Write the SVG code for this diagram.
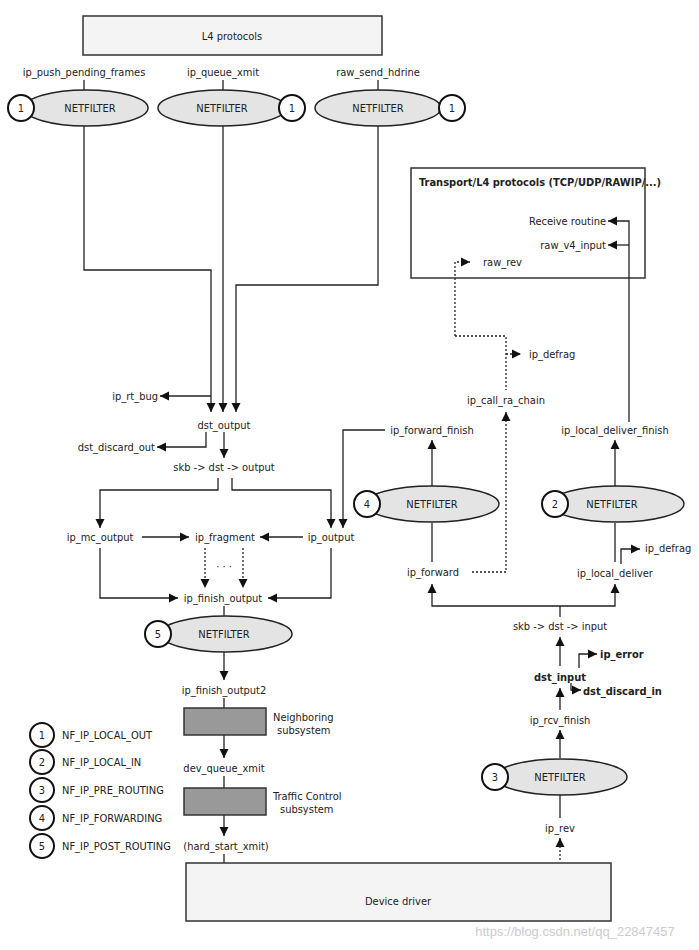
<svg xmlns="http://www.w3.org/2000/svg" width="699" height="950" viewBox="0 0 699 950">
<style>
text{font-family:"DejaVu Sans Condensed","DejaVu Sans",sans-serif;font-size:11px;fill:#222;text-anchor:middle}
.b{font-weight:bold}
.l{text-anchor:start}
.r{text-anchor:end}
.ln{fill:none;stroke:#222;stroke-width:1.3}
.d{fill:none;stroke:#222;stroke-width:1.3;stroke-dasharray:2,2}
.box{fill:#f4f4f4;stroke:#333;stroke-width:1.5}
.gb{fill:#999;stroke:#333;stroke-width:1.5}
.el{fill:#e4e4e4;stroke:#222;stroke-width:1.5}
.c{fill:#fff;stroke:#111;stroke-width:2}
</style>
<defs>
<marker id="a" viewBox="0 0 10 10" refX="10" refY="5" markerWidth="7" markerHeight="7" orient="auto"><path d="M0,0L10,5L0,10z" fill="#111"/></marker>
</defs>
<rect fill="#fff" width="699" height="950"/>
<g id="transport">
<rect fill="#fff" stroke="#333" stroke-width="1.5" x="411" y="168" width="234" height="110"/>
<text class="l b" x="419" y="186">Transport/L4 protocols (TCP/UDP/RAWIP/...)</text>
<text class="r" x="606" y="225">Receive routine</text>
<text class="r" x="606" y="249">raw_v4_input</text>
<text class="l" x="483" y="266">raw_rev</text>
</g>
<g id="connectors">
<path class="ln" d="M84,120V270H211V412" marker-end="url(#a)"/>
<path class="ln" d="M223,120V412" marker-end="url(#a)"/>
<path class="ln" d="M378,120V285H236V412" marker-end="url(#a)"/>
<path class="ln" d="M211,396H160" marker-end="url(#a)"/>
<path class="ln" d="M206,432V447H157" marker-end="url(#a)"/>
<path class="ln" d="M224,432V458" marker-end="url(#a)"/>
<path class="ln" d="M218,478V490H100V528" marker-end="url(#a)"/>
<path class="ln" d="M232,478V490H331V528" marker-end="url(#a)"/>
<path class="ln" d="M385,430H343V528" marker-end="url(#a)"/>
<path class="ln" d="M142,537H189" marker-end="url(#a)"/>
<path class="ln" d="M303,537H260" marker-end="url(#a)"/>
<path class="d" d="M205,548V588" marker-end="url(#a)"/>
<path class="d" d="M243,548V588" marker-end="url(#a)"/>
<path class="ln" d="M100,548V598H178" marker-end="url(#a)"/>
<path class="ln" d="M331,548V598H268" marker-end="url(#a)"/>
<path class="ln" d="M224,606V617"/>
<path class="ln" d="M224,652V680" marker-end="url(#a)"/>
<path class="ln" d="M224,698V708M224,735V758" marker-end="url(#a)"/>
<path class="ln" d="M224,776V788M224,815V836" marker-end="url(#a)"/>
<path class="ln" d="M224,854V882" marker-end="url(#a)"/>
<path class="ln" d="M629,422V221H608" marker-end="url(#a)"/>
<path class="ln" d="M629,245H608" marker-end="url(#a)"/>
<path class="d" d="M455,336V262H470" marker-end="url(#a)"/>
<path class="d" d="M455,336H506V390"/>
<path class="d" d="M506,354H521" marker-end="url(#a)"/>
<path class="d" d="M472,572H506V412" marker-end="url(#a)"/>
<path class="ln" d="M432,486V440" marker-end="url(#a)"/>
<path class="ln" d="M432,523V562"/>
<path class="ln" d="M615,486V440" marker-end="url(#a)"/>
<path class="ln" d="M615,523V562"/>
<path class="ln" d="M621,564V549H640" marker-end="url(#a)"/>
<path class="ln" d="M560,606H432V584" marker-end="url(#a)"/>
<path class="ln" d="M560,606H615V584" marker-end="url(#a)"/>
<path class="ln" d="M560,617V606"/>
<path class="ln" d="M560,666V637" marker-end="url(#a)"/>
<path class="ln" d="M579,668V654H597" marker-end="url(#a)"/>
<path class="ln" d="M571,683V690H581" marker-end="url(#a)"/>
<path class="ln" d="M560,710V688" marker-end="url(#a)"/>
<path class="ln" d="M560,758V730" marker-end="url(#a)"/>
<path class="ln" d="M560,795V818"/>
<path class="d" d="M560,860V838" marker-end="url(#a)"/>
</g>
<g id="l4"><rect class="box" x="83" y="16" width="299" height="39"/><text x="232" y="40">L4 protocols</text></g>
<g id="top-labels">
<text x="84" y="76">ip_push_pending_frames</text>
<text x="223" y="76">ip_queue_xmit</text>
<text x="378" y="76">raw_send_hdrine</text>
<path class="ln" d="M84,80V90M223,80V90M378,80V90"/>
</g>
<g id="nf1a"><ellipse class="el" cx="86" cy="108" rx="62" ry="18"/><circle class="c" cx="21" cy="108" r="13"/><text x="21" y="112">1</text><text x="90" y="112">NETFILTER</text></g>
<g id="nf1b"><ellipse class="el" cx="222" cy="108" rx="64" ry="18"/><circle class="c" cx="292" cy="108" r="13"/><text x="292" y="112">1</text><text x="222" y="112">NETFILTER</text></g>
<g id="nf1c"><ellipse class="el" cx="378" cy="108" rx="63" ry="18"/><circle class="c" cx="452" cy="108" r="13"/><text x="452" y="112">1</text><text x="378" y="112">NETFILTER</text></g>
<g id="out-labels">
<text class="r" x="158" y="400">ip_rt_bug</text>
<text x="224" y="429">dst_output</text>
<text class="r" x="155" y="451">dst_discard_out</text>
<text x="224" y="471">skb -&gt; dst -&gt; output</text>
<text x="100" y="541">ip_mc_output</text>
<text x="225" y="541">ip_fragment</text>
<text x="331" y="541">ip_output</text>
<text x="224" y="570">· · ·</text>
<text x="223" y="602">ip_finish_output</text>
</g>
<g id="nf5"><ellipse class="el" cx="226" cy="634" rx="66" ry="18"/><circle class="c" cx="158" cy="634" r="13"/><text x="158" y="638">5</text><text x="224" y="638">NETFILTER</text></g>
<g id="tx">
<text x="224" y="694">ip_finish_output2</text>
<rect class="gb" x="184" y="708" width="82" height="27"/>
<text class="l" x="273" y="721">Neighboring</text><text class="l" x="277" y="734">subsystem</text>
<text x="224" y="772">dev_queue_xmit</text>
<rect class="gb" x="184" y="788" width="82" height="27"/>
<text class="l" x="273" y="800">Traffic Control</text><text class="l" x="280" y="813">subsystem</text>
<text x="226" y="850">(hard_start_xmit)</text>
</g>
<g id="legend">
<circle class="c" cx="42" cy="735" r="12"/><text x="42" y="739">1</text><text class="l" x="62" y="739">NF_IP_LOCAL_OUT</text>
<circle class="c" cx="42" cy="762" r="12"/><text x="42" y="766">2</text><text class="l" x="62" y="766">NF_IP_LOCAL_IN</text>
<circle class="c" cx="42" cy="790" r="12"/><text x="42" y="794">3</text><text class="l" x="62" y="794">NF_IP_PRE_ROUTING</text>
<circle class="c" cx="42" cy="818" r="12"/><text x="42" y="822">4</text><text class="l" x="62" y="822">NF_IP_FORWARDING</text>
<circle class="c" cx="42" cy="846" r="12"/><text x="42" y="850">5</text><text class="l" x="62" y="850">NF_IP_POST_ROUTING</text>
</g>
<g id="driver"><rect class="box" x="186" y="863" width="425" height="58"/><text x="398" y="905">Device driver</text></g>
<g id="in-labels">
<text class="l" x="529" y="358">ip_defrag</text>
<text x="506" y="404">ip_call_ra_chain</text>
<text x="432" y="434">ip_forward_finish</text>
<text x="615" y="434">ip_local_deliver_finish</text>
<text x="433" y="576">ip_forward</text>
<text x="615" y="577">ip_local_deliver</text>
<text class="l" x="645" y="552">ip_defrag</text>
<text x="560" y="630">skb -&gt; dst -&gt; input</text>
<text class="b" x="560" y="681">dst_input</text>
<text class="l b" x="600" y="658">ip_error</text>
<text class="l b" x="583" y="695">dst_discard_in</text>
<text x="560" y="724">ip_rcv_finish</text>
<text x="560" y="832">ip_rev</text>
</g>
<g id="nf4"><ellipse class="el" cx="432" cy="504" rx="67" ry="18"/><circle class="c" cx="367" cy="504" r="13"/><text x="367" y="508">4</text><text x="432" y="508">NETFILTER</text></g>
<g id="nf2"><ellipse class="el" cx="617" cy="504" rx="67" ry="18"/><circle class="c" cx="555" cy="504" r="13"/><text x="555" y="508">2</text><text x="612" y="508">NETFILTER</text></g>
<g id="nf3"><ellipse class="el" cx="561" cy="777" rx="66" ry="18"/><circle class="c" cx="495" cy="777" r="13"/><text x="495" y="781">3</text><text x="560" y="781">NETFILTER</text></g>
<text x="575" y="936" style="font-family:'Liberation Sans',sans-serif;font-size:13px;fill:#ccc">https://blog.csdn.net/qq_22847457</text>
</svg>
